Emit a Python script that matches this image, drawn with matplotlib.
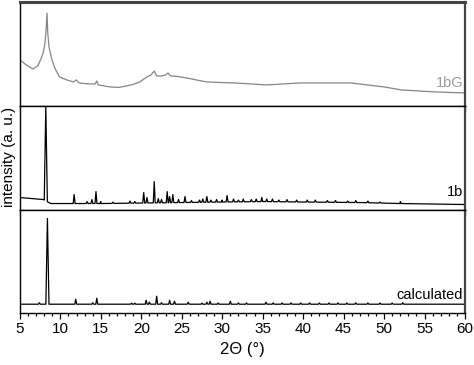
import numpy as np
import matplotlib; matplotlib.use("Agg")
import matplotlib.pyplot as plt
from matplotlib.ticker import MultipleLocator

plt.rcParams["font.family"] = ["Liberation Sans", "DejaVu Sans"]

# 1bG: broad amorphous trace, read point by point (2theta, intensity)
tt_1bG = [5.0, 5.8, 6.6, 7.2, 7.6, 7.9, 8.1, 8.25, 8.35, 8.45, 8.6, 8.9, 9.3, 9.9,
          10.8, 11.6, 12.0, 12.3, 13.5, 14.3, 14.5, 14.7, 16.1, 17.2, 18.2, 19.0,
          19.8, 20.7, 21.2, 21.6, 21.9, 22.5, 23.0, 23.3, 23.6, 24.5, 25.6, 26.8,
          28.1, 29.5, 31.4, 33.5, 35.5, 37.5, 39.7, 42.0, 45.9, 47.9, 50.0, 52.1,
          54.1, 56.2, 58.0, 60.0]
I_1bG = [46, 41, 37, 40, 47, 54, 63, 78, 93, 72, 59, 48, 38, 29,
         26, 24, 26, 23, 22, 22, 25, 21, 19, 18.5, 20, 21.5,
         24, 29, 31, 35, 30, 30, 31, 33, 30, 29.5, 28, 26,
         24, 23.5, 23, 22, 21, 22, 23, 23, 23, 21, 19, 16,
         15, 14, 13.5, 13]

# 1b: background and peaks (position, height)
bg_1b_tt = [5.0, 6.5, 7.9, 8.8, 15.0, 20.0, 25.0, 30.0, 35.0, 40.0, 47.0, 52.0, 56.0, 60.0]
bg_1b_I = [12, 11, 10, 6, 6, 6.5, 7, 7.5, 8, 7.5, 7, 6, 5.5, 5]
pk_1b_tt = [8.2, 11.7, 13.3, 13.9, 14.4, 15.0, 16.5, 18.6, 19.2, 20.3, 20.7, 21.6,
            22.1, 22.5, 23.2, 23.5, 23.9, 24.6, 25.4, 26.2, 27.2, 27.6, 28.1, 28.6,
            29.3, 30.0, 30.6, 31.4, 32.0, 32.6, 33.6, 34.2, 34.9, 35.5, 36.2, 37.0,
            38.0, 39.2, 40.5, 41.5, 43.0, 44.0, 45.5, 46.5, 48.0, 49.5, 52.0]
pk_1b_I = [103, 15, 8, 10, 18, 8, 7.5, 8.5, 8, 17, 12, 28,
           11, 10, 18, 13, 15, 10, 13, 9, 9.5, 10.5, 13, 9.5,
           10, 9.5, 14, 10.5, 9.5, 10.5, 10, 10.5, 12, 10.5, 10.5, 9.5,
           10, 9.5, 9.5, 9.5, 9, 9, 8.5, 9, 8.5, 7.5, 8]

# calculated: flat background and peaks
bg_calc_tt = [5.0, 60.0]
bg_calc_I = [9, 9]
pk_calc_tt = [7.4, 8.4, 11.9, 14.0, 14.5, 18.8, 19.2, 20.6, 21.0, 21.9, 22.5, 23.5,
              24.1, 25.8, 27.5, 28.1, 28.5, 29.5, 31.0, 32.0, 33.0, 35.4, 36.3, 37.4,
              38.5, 39.7, 40.8, 42.0, 43.2, 44.3, 45.4, 46.5, 48.0, 49.5, 51.0, 52.3]
pk_calc_I = [10.5, 95, 14, 10.5, 15, 10, 10, 13, 11, 17, 10.5, 13,
             12, 11, 10, 11, 12, 10.2, 12, 10.3, 10.3, 11, 10.3, 10.2,
             10.3, 10.2, 10.3, 10.3, 10.2, 10.3, 10.2, 10.4, 10.2, 10.2, 10.2, 10.5]


def spiky(bg_x, bg_y, px, py, hw=0.12):
    xs = list(bg_x)
    ys = list(bg_y)
    for p, h in zip(px, py):
        w = hw * (1.6 if h > 50 else 1.0)
        for x in (p - w, p + w):
            xs.append(x); ys.append(np.interp(x, bg_x, bg_y))
        xs.append(p); ys.append(h)
    o = np.argsort(xs)
    return np.array(xs)[o], np.array(ys)[o]


fig, axs = plt.subplots(3, 1, figsize=(4.74, 3.65), dpi=100, sharex=True)
fig.subplots_adjust(left=0.042, right=0.981, top=0.994, bottom=0.142, hspace=0)

x1, y1 = spiky(bg_1b_tt, bg_1b_I, pk_1b_tt, pk_1b_I)
x2, y2 = spiky(bg_calc_tt, bg_calc_I, pk_calc_tt, pk_calc_I)

axs[0].plot(tt_1bG, I_1bG, color="#858585", lw=0.9)
axs[1].plot(x1, y1, color="black", lw=0.9)
axs[2].plot(x2, y2, color="black", lw=0.9)

labels = ["1bG", "1b", "calculated"]
lcol = ["#9a9a9a", "black", "black"]
lpos = [0.22, 0.17, 0.18]
for ax, lab, c, yp in zip(axs, labels, lcol, lpos):
    ax.set_ylim(0, 104)
    ax.set_yticks([])
    ax.text(0.996, yp, lab, transform=ax.transAxes, ha="right", va="center",
            fontsize=10.5, color=c)
    ax.tick_params(axis="x", which="major", direction="out", length=4.5, width=0.9)
    ax.tick_params(axis="x", which="minor", direction="out", length=2.5, width=0.9)
    for s in ax.spines.values():
        s.set_linewidth(1.0)
    ax.spines["right"].set_color("#444444")
    ax.spines["right"].set_linewidth(1.6)
axs[0].spines["top"].set_color("#444444")
axs[0].spines["top"].set_linewidth(2.2)

ax = axs[2]
ax.set_xlim(5, 60)
ax.xaxis.set_major_locator(MultipleLocator(5))
ax.xaxis.set_minor_locator(MultipleLocator(1))
ax.tick_params(axis="x", labelsize=11, pad=2)
ax.set_xlabel("2\u0398 (\u00b0)", fontsize=12, labelpad=4)
fig.text(0.018, 0.57, "intensity (a. u.)", rotation=90, ha="center", va="center",
         fontsize=11)

fig.savefig("out.png", dpi=100)
